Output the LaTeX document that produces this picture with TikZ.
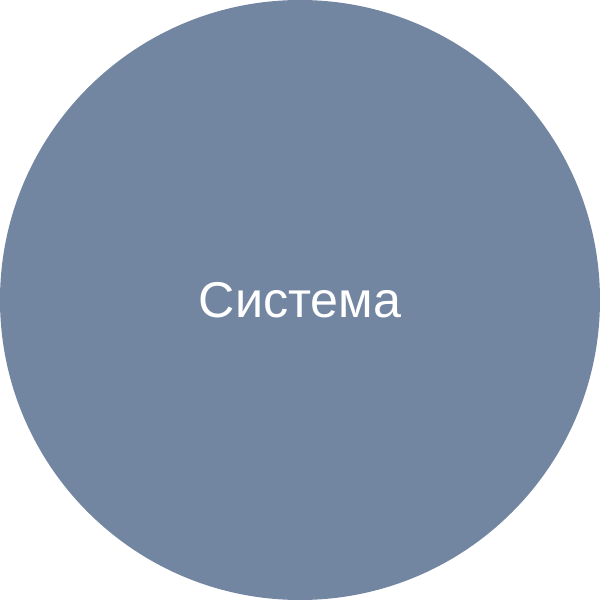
\documentclass[tikz,border=0pt]{standalone}
\usepackage{fontspec}
\setmainfont{Liberation Sans}
\definecolor{sysblue}{RGB}{115,134,161}
\begin{document}
\begin{tikzpicture}
      \useasboundingbox (-3, -3) rectangle (3, 3);
      \node (sys) [circle, fill=sysblue, minimum size=6cm, inner sep=0pt,
        text=white, font=\fontsize{14.3}{17}\selectfont] {Система};
    \end{tikzpicture}
\end{document}
